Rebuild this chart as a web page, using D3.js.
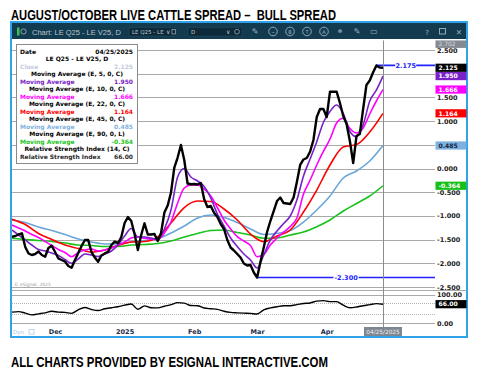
<!DOCTYPE html>
<html>
<head>
<meta charset="utf-8">
<script src="https://cdn.jsdelivr.net/npm/d3@7"></script>
<style>
  body { margin: 0; background: #fff; }
  svg text { font-family: "DejaVu Sans", Verdana, sans-serif; }
</style>
</head>
<body>
<div id="chart"></div>
<script>
// LE Q25 - LE V25 spread, daily sessions from mid Nov 2024 to 04/25/2025
const closeVals = [
  -1.439, -1.424, -1.392, -1.367, -1.656, -1.793, -1.825, -1.804, -1.751, -1.825,
  -1.861, -1.677, -1.629, -1.762, -1.899, -1.930, -1.962, -2.057, -2.093, -1.930,
  -1.783, -1.635, -1.508, -1.508, -1.762, -1.878, -1.966, -1.835, -1.791, -1.757,
  -1.614, -1.544, -1.576, -1.445, -1.150, -1.023, -1.108, -1.382, -1.719, -1.403,
  -1.156, -1.392, -1.392, -1.382, -1.530, -1.361, -0.928, -0.781, -0.506, 0.021,
  0.232, 0.496, 0.179, -0.316, -0.333, -0.327, -0.338, -0.306, -0.643, -0.812,
  -0.791, -0.932, -1.023, -1.171, -1.276, -1.508, -1.667, -1.730, -1.804, -1.878,
  -2.004, -2.046, -2.036, -2.194, -2.300, -1.973, -1.667, -1.340, -1.108, -0.897,
  -0.686, -0.612, -0.728, -0.738, -0.749, -0.612, -0.285, 0.074, 0.190, 0.222,
  0.359, 0.601, 1.086, 1.255, 1.255, 1.086, 1.620, 1.620, 1.620, 1.382,
  1.108, 0.939, 0.580, 0.116, 0.686, 0.728, 1.255, 1.762, 1.857, 2.025,
  2.175, 2.131, 2.125
];

// moving averages, read every 2nd session
const ema5 = [
  -1.297, -1.403, -1.508, -1.614, -1.709, -1.741, -1.783, -1.835, -1.920, -2.000,
  -1.909, -1.804, -1.825, -1.857, -1.804, -1.741, -1.614, -1.424, -1.266, -1.445,
  -1.445, -1.466, -1.498, -1.276, -0.876, -0.179, 0.000, -0.179, -0.264, -0.380,
  -0.622, -0.960, -1.213, -1.466, -1.646, -1.804, -1.930, -2.099, -1.825, -1.508,
  -1.319, -1.160, -1.002, -0.665, -0.158, 0.200, 0.565, 0.970, 1.203, 1.340,
  1.160, 0.781, 0.671, 0.918, 1.424, 1.656, 1.950
];
const ema10 = [
  -1.192, -1.255, -1.319, -1.392, -1.456, -1.540, -1.624, -1.709, -1.772, -1.861,
  -1.772, -1.719, -1.698, -1.741, -1.719, -1.677, -1.614, -1.551, -1.466, -1.445,
  -1.473, -1.487, -1.498, -1.361, -1.129, -0.728, -0.411, -0.348, -0.348, -0.432,
  -0.580, -0.823, -1.086, -1.276, -1.439, -1.530, -1.624, -1.861, -1.814, -1.614,
  -1.466, -1.340, -1.224, -1.044, -0.538, -0.243, 0.074, 0.359, 0.622, 0.960,
  1.059, 0.844, 0.749, 0.854, 1.150, 1.424, 1.666
];
// slower averages, read every 4th session
const ema22 = [
  -1.072, -1.181, -1.371, -1.498, -1.614, -1.688, -1.762, -1.719, -1.624, -1.551,
  -1.540, -1.445, -1.150, -0.823, -0.686, -0.696, -0.854, -1.086, -1.382, -1.544,
  -1.424, -1.297, -0.918, -0.454, 0.074, 0.454, 0.506, 0.770, 1.164
];
const ema45 = [
  -1.086, -1.139, -1.234, -1.308, -1.392, -1.487, -1.551, -1.593, -1.593, -1.551,
  -1.519, -1.477, -1.361, -1.213, -1.044, -0.981, -1.034, -1.139, -1.276, -1.392,
  -1.367, -1.308, -1.129, -0.876, -0.580, -0.200, -0.053, 0.158, 0.485
];
const ema90 = [
  -1.473, -1.498, -1.519, -1.540, -1.572, -1.614, -1.624, -1.646, -1.646, -1.614,
  -1.603, -1.582, -1.530, -1.445, -1.371, -1.308, -1.297, -1.350, -1.403, -1.473,
  -1.466, -1.403, -1.340, -1.228, -1.086, -0.897, -0.738, -0.580, -0.364
];
// RSI(14), every 2nd session
const rsiVals = [
  38.2, 40.0, 34.6, 28.6, 32.1, 35.7, 41.1, 38.2, 37.1, 33.9,
  46.4, 54.3, 47.5, 43.9, 50.0, 53.6, 57.1, 62.5, 66.8, 48.2,
  60.0, 53.6, 52.9, 58.9, 64.3, 71.4, 69.6, 61.4, 60.7, 52.5,
  50.0, 47.9, 41.1, 37.1, 35.7, 34.6, 33.6, 31.4, 46.4, 52.9,
  57.1, 60.7, 60.7, 64.3, 68.6, 70.4, 76.8, 78.6, 75.0, 75.0,
  62.5, 53.6, 56.1, 60.7, 64.3, 67.9, 66.0
];

const monthTicks = [13, 34, 55, 74, 95];
const monthLabels = ["Dec", "2025", "Feb", "Mar", "Apr"];
const yTicks = [2.5, 2, 1.5, 1, 0.5, 0, -0.5, -1, -1.5, -2, -2.5];
const rsiTicks = [100, 0];
const rsiBands = [70, 30];
const yTop = 2.702;
const lastDate = "04/25/2025";

const title = "AUGUST/OCTOBER LIVE CATTLE SPREAD \u2013  BULL SPREAD";
const footer = "ALL CHARTS PROVIDED BY ESIGNAL INTERACTIVE.COM";

const colors = {
  ema5: "#7a22c8", ema10: "#ff00ff", ema22: "#ff0000",
  ema45: "#6aa6da", ema90: "#19c219", level: "#2323ff"
};

const svg = d3.select("#chart")
  .append("svg")
  .attr("width", 498)
  .attr("height", 372)

// scales
const x = d3.scaleLinear().domain([0, closeVals.length - 1]).range([12, 383])
const y = d3.scaleLinear().domain([-2.5, 2.5]).range([287, 50])
const yR = d3.scaleLinear().domain([0, 100]).range([323, 294.5])

const plotL = 12, plotR = 435, plotTop = y(yTop), plotBot = 290
const last = a => a[a.length - 1]

// title + footer
svg.append("text")
  .attr("x", 11).attr("y", 20)
  .attr("textLength", 325).attr("lengthAdjust", "spacingAndGlyphs")
  .style("font-family", "'Liberation Sans Narrow', 'Liberation Sans', sans-serif")
  .style("font-weight", "bold").style("font-size", "14px")
  .style("white-space", "pre")
  .text(title)

svg.append("text")
  .attr("x", 11).attr("y", 367)
  .attr("textLength", 317).attr("lengthAdjust", "spacingAndGlyphs")
  .style("font-family", "'Liberation Sans Narrow', 'Liberation Sans', sans-serif")
  .style("font-weight", "bold").style("font-size", "14px")
  .text(footer)

// chart window + header bar
svg.append("rect")
  .attr("x", 11).attr("y", 22).attr("width", 456).attr("height", 315)
  .attr("fill", "#fff").attr("stroke", "#2fa3ea").attr("stroke-width", 2)

const head = svg.append("g")
head.append("rect").attr("x", 12).attr("y", 23).attr("width", 454).attr("height", 16).attr("fill", "#133b50")
head.append("rect").attr("x", 17).attr("y", 27.5).attr("width", 2.5).attr("height", 8).attr("fill", "#3cc24a")
head.append("circle").attr("cx", 23.5).attr("cy", 31.5).attr("r", 2.6).attr("fill", "none").attr("stroke", "#8fa4b0")
head.append("text").attr("x", 32).attr("y", 34.5)
  .style("font-family", "'Liberation Sans', sans-serif").style("font-size", "7.5px")
  .attr("fill", "#b7c4cc").text("Chart: LE Q25 - LE V25, D")
head.append("rect").attr("x", 129).attr("y", 27.5).attr("width", 48).attr("height", 8.5)
  .attr("fill", "#0c2a3a").attr("stroke", "#2a4b5e").attr("stroke-width", 0.5)
head.append("text").attr("x", 132).attr("y", 34).style("font-size", "5.5px").attr("fill", "#c3ced6").text("LE Q25 - LE")
head.append("text").attr("x", 166).attr("y", 34).style("font-size", "6px").attr("fill", "#c3ced6").text("\u2228")
head.append("rect").attr("x", 172).attr("y", 29.5).attr("width", 3.5).attr("height", 4.5).attr("fill", "none").attr("stroke", "#8fa4b0").attr("stroke-width", 0.8)
head.append("rect").attr("x", 188).attr("y", 27.5).attr("width", 54).attr("height", 8.5)
  .attr("fill", "#0c2a3a").attr("stroke", "#2a4b5e").attr("stroke-width", 0.5)
head.append("text").attr("x", 191).attr("y", 34).style("font-size", "5.5px").attr("fill", "#c3ced6").text("D")
head.append("text").attr("x", 226).attr("y", 34).style("font-size", "6px").attr("fill", "#c3ced6").text("\u2228")
head.append("circle").attr("cx", 237).attr("cy", 31.7).attr("r", 2.4).attr("fill", "none").attr("stroke", "#8fa4b0").attr("stroke-width", 0.8)

const iconText = [[255, "\u270e"], [273, "~"], [290, "B"], [307, "T"], [324, "A"], [340, "\u26ad"], [357, "\u270e"], [374, "\u25ad"]]
iconText.forEach(([cx, t], i) => {
  if (i >= 1 && i <= 4) {
    head.append("circle").attr("cx", cx).attr("cy", 31.5).attr("r", 4.3)
      .attr("fill", "none").attr("stroke", "#9fb3bf").attr("stroke-width", 0.9)
  }
  head.append("text").attr("x", cx).attr("y", 34).attr("text-anchor", "middle")
    .style("font-size", i >= 1 && i <= 4 ? "5px" : "8px").attr("fill", "#9fb3bf").text(t)
})
head.append("text").attr("x", 427).attr("y", 34.5).attr("text-anchor", "middle").style("font-size", "7px").attr("fill", "#9fb3bf").text("?")
head.append("rect").attr("x", 439.5).attr("y", 28.5).attr("width", 6).attr("height", 5.5).attr("fill", "none").attr("stroke", "#9fb3bf").attr("stroke-width", 0.9)
head.append("text").attr("x", 459).attr("y", 34.5).attr("text-anchor", "middle").style("font-size", "7.5px").attr("fill", "#9fb3bf").text("\u2715")

// clip for main price pane
svg.append("clipPath").attr("id", "mainClip")
  .append("rect").attr("x", plotL).attr("y", plotTop).attr("width", plotR - plotL).attr("height", plotBot - plotTop)

const g = svg.append("g")

// gridlines
g.selectAll("line.grid")
  .data(yTicks)
  .join("line")
  .attr("class", "grid")
  .attr("x1", plotL).attr("x2", plotR)
  .attr("y1", d => Math.round(y(d)) + 0.5).attr("y2", d => Math.round(y(d)) + 0.5)
  .attr("stroke", "#a9a9a9").attr("stroke-width", 1)

// pane separator
svg.append("line").attr("x1", plotL).attr("x2", 467).attr("y1", 290.5).attr("y2", 290.5)
  .attr("stroke", "#a9a9a9")

// last values shown as boxes on the axis
const boxes = [
  { v: last(ema90), fill: "#16c016", tc: "#fff", s: y },
  { v: last(ema45), fill: "#7db2e0", tc: "#15243d", s: y },
  { v: last(ema22), fill: "#ff0000", tc: "#fff", s: y },
  { v: last(ema10), fill: "#ff00ff", tc: "#fff", s: y },
  { v: last(ema5), fill: "#7a22c8", tc: "#fff", s: y },
  { v: last(closeVals), fill: "#000", tc: "#fff", s: y },
  { v: last(rsiVals), fill: "#000", tc: "#fff", s: yR, f: 2 }
]
const priceBoxYs = boxes.filter(b => b.s === y).map(b => y(b.v))

// right axis (labels covered by a value box are not drawn, as in eSignal)
const yAxisCall = d3.axisRight(y)
  .tickValues(yTicks)
  .tickFormat(d => d.toFixed(3))
  .tickSize(0)
  .tickPadding(2)
const yAx = svg.append("g")
  .attr("transform", `translate(${plotR}, 0)`)
  .call(yAxisCall)
yAx.select(".domain").remove()
yAx.selectAll(".tick")
  .filter(d => priceBoxYs.some(by => Math.abs(by - y(d)) < 5))
  .remove()
yAx.selectAll("text").style("font-size", "6.5px").style("font-weight", "bold")
  .style("font-family", "'DejaVu Sans', sans-serif").attr("fill", "#1b1b1b")

const pane = g.append("g").attr("clip-path", "url(#mainClip)")

const toPts = (vals, step) => vals.map((v, i) => [i * step, v])
const lineStraight = d3.line().x(d => x(d[0])).y(d => y(d[1]))
const lineSmooth = d3.line().x(d => x(d[0])).y(d => y(d[1])).curve(d3.curveMonotoneX)

// horizontal levels at the high and low closes
const hiIdx = d3.maxIndex(closeVals), loIdx = d3.minIndex(closeVals)
const levels = [
  { idx: hiIdx, v: closeVals[hiIdx] },
  { idx: loIdx, v: closeVals[loIdx] }
]
levels.forEach(l => {
  const yy = y(l.v), x0 = x(l.idx)
  pane.append("line").attr("x1", x0).attr("x2", plotR).attr("y1", yy).attr("y2", yy)
    .attr("stroke", colors.level).attr("stroke-width", 1.6)
  const mid = (x0 + plotR) / 2
  const lbl = l.v.toFixed(3)
  pane.append("rect").attr("x", mid - lbl.length * 2.1).attr("y", yy - 3.5)
    .attr("width", lbl.length * 4.2).attr("height", 7).attr("fill", "#fff")
  pane.append("text").attr("x", mid).attr("y", yy + 2.3).attr("text-anchor", "middle")
    .style("font-size", "6.5px").style("font-weight", "bold").attr("fill", colors.level).text(lbl)
})

const maSeries = [
  { vals: ema90, step: 4, color: colors.ema90 },
  { vals: ema45, step: 4, color: colors.ema45 },
  { vals: ema22, step: 4, color: colors.ema22 },
  { vals: ema10, step: 2, color: colors.ema10 },
  { vals: ema5, step: 2, color: colors.ema5 }
]
maSeries.forEach(s => {
  pane.append("path")
    .datum(toPts(s.vals, s.step))
    .attr("d", lineSmooth)
    .attr("fill", "none").attr("stroke", s.color).attr("stroke-width", 1.6)
})

pane.append("path")
  .datum(toPts(closeVals, 1))
  .attr("d", lineStraight)
  .attr("fill", "none").attr("stroke", "#000").attr("stroke-width", 2.4)
  .attr("stroke-linejoin", "round")

// watermark
svg.append("text").attr("x", 14).attr("y", 285.5).style("font-size", "4.5px").attr("fill", "#9a9a9a").text("\u00a9 eSignal, 2025")

// RSI pane
const rg = svg.append("g")
rg.selectAll("line.rgrid").data(rsiTicks).join("line")
  .attr("x1", plotL).attr("x2", plotR)
  .attr("y1", d => Math.round(yR(d)) + 0.5).attr("y2", d => Math.round(yR(d)) + 0.5)
  .attr("stroke", "#a9a9a9")
rg.selectAll("line.band").data(rsiBands).join("line")
  .attr("x1", plotL).attr("x2", plotR)
  .attr("y1", d => Math.round(yR(d)) + 0.5).attr("y2", d => Math.round(yR(d)) + 0.5)
  .attr("stroke", "#b5b5b5").attr("stroke-dasharray", "1,1")

const rAxisCall = d3.axisRight(yR).tickValues(rsiTicks).tickFormat(d => d.toFixed(2)).tickSize(0).tickPadding(2)
const rAx = svg.append("g").attr("transform", `translate(${plotR}, 0)`).call(rAxisCall)
rAx.select(".domain").remove()
rAx.selectAll("text").style("font-size", "6.5px").style("font-weight", "bold")
  .style("font-family", "'DejaVu Sans', sans-serif").attr("fill", "#1b1b1b")

const rsiLine = d3.line().x(d => x(d[0])).y(d => yR(d[1])).curve(d3.curveMonotoneX)
rg.append("path").datum(toPts(rsiVals, 2)).attr("d", rsiLine)
  .attr("fill", "none").attr("stroke", "#000").attr("stroke-width", 1.4)

// cursor line on last session
const lastIdx = closeVals.length - 1
svg.append("line").attr("x1", Math.round(x(lastIdx)) + 0.5).attr("x2", Math.round(x(lastIdx)) + 0.5)
  .attr("y1", plotTop).attr("y2", 327).attr("stroke", "#8c8c8c")

// x axis
const xAxisCall = d3.axisBottom(x)
  .tickValues(monthTicks)
  .tickFormat((d, i) => monthLabels[i])
  .tickSize(0)
  .tickPadding(3)
const xAx = svg.append("g").attr("transform", "translate(0, 326)").call(xAxisCall)
xAx.select(".domain").remove()
xAx.selectAll("text").style("font-size", "6.5px").style("font-weight", "bold")
  .style("font-family", "'DejaVu Sans', sans-serif").attr("fill", "#1d2c4c")

svg.append("rect").attr("x", x(lastIdx) - 19).attr("y", 327).attr("width", 38).attr("height", 9).attr("fill", "#7d8792")
svg.append("text").attr("x", x(lastIdx)).attr("y", 334).attr("text-anchor", "middle")
  .style("font-size", "5.8px").attr("fill", "#eef0f2").text(lastDate)

svg.append("text").attr("x", 13).attr("y", 334).style("font-size", "5.5px").attr("fill", "#a9c6e6").text("Dyn")
svg.append("rect").attr("x", 29).attr("y", 329.5).attr("width", 5).attr("height", 4.5).attr("fill", "none").attr("stroke", "#a9c6e6").attr("stroke-width", 0.7)

boxes.forEach(b => {
  const cy = b.s(b.v)
  svg.append("rect").attr("x", 435.5).attr("y", cy - 4.1).attr("width", 31).attr("height", 8.2).attr("fill", b.fill)
  svg.append("text").attr("x", 438.5).attr("y", cy + 2.2)
    .style("font-size", "6.1px").style("font-weight", "bold").attr("fill", b.tc)
    .text(b.v.toFixed(b.f || 3))
})
// top-of-range box
svg.append("rect").attr("x", 435.5).attr("y", plotTop).attr("width", 31).attr("height", 7.5).attr("fill", "#848a90")
svg.append("text").attr("x", 438.5).attr("y", plotTop + 6).style("font-size", "6px")
  .attr("fill", "#d8dde2").text(yTop.toFixed(3))

// legend / data window
const legendRows = [
  { l: "Date", r: lastDate, lc: "#000", rc: "#000" },
  { c: "LE Q25 - LE V25, D" },
  { l: "Close", r: last(closeVals).toFixed(3), lc: "#c3cbdc", rc: "#c3cbdc" },
  { c: "Moving Average (E, 5, 0, C)" },
  { l: "Moving Average", r: last(ema5).toFixed(3), lc: colors.ema5, rc: colors.ema5 },
  { c: "Moving Average (E, 10, 0, C)" },
  { l: "Moving Average", r: last(ema10).toFixed(3), lc: colors.ema10, rc: colors.ema10 },
  { c: "Moving Average (E, 22, 0, C)" },
  { l: "Moving Average", r: last(ema22).toFixed(3), lc: colors.ema22, rc: colors.ema22 },
  { c: "Moving Average (E, 45, 0, C)" },
  { l: "Moving Average", r: last(ema45).toFixed(3), lc: "#7fb3e0", rc: "#7fb3e0" },
  { c: "Moving Average (E, 90, 0, L)" },
  { l: "Moving Average", r: last(ema90).toFixed(3), lc: "#22c422", rc: "#22c422" },
  { c: "Relative Strength Index (14, C)" },
  { l: "Relative Strength Index", r: last(rsiVals).toFixed(2), lc: "#2a2a2a", rc: "#2a2a2a" }
]
const lg = svg.append("g")
lg.append("rect").attr("x", 16.5).attr("y", 44.5).attr("width", 121).attr("height", 119)
  .attr("fill", "#fff").attr("stroke", "#8a8a8a")
legendRows.forEach((row, i) => {
  const by = 53.9 + i * 7.5
  if (row.c) {
    lg.append("text").attr("x", 77).attr("y", by).attr("text-anchor", "middle")
      .style("font-size", "6px").style("font-weight", "bold").attr("fill", "#000").text(row.c)
  } else {
    lg.append("text").attr("x", 20).attr("y", by)
      .style("font-size", "6px").style("font-weight", "bold").attr("fill", row.lc).text(row.l)
    lg.append("text").attr("x", 133).attr("y", by).attr("text-anchor", "end")
      .style("font-size", "6px").style("font-weight", "bold").attr("fill", row.rc).text(row.r)
  }
})
</script>
</body>
</html>
